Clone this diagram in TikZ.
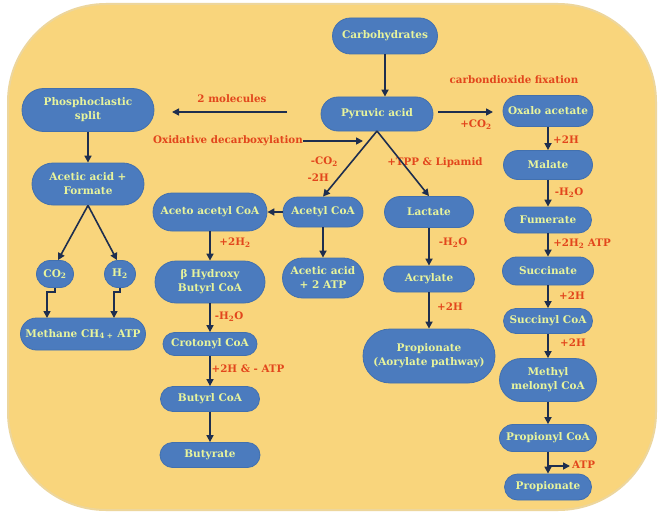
\documentclass[tikz,border=0pt]{standalone}
\usepackage{fontspec}
\setmainfont{DejaVu Serif}
\usetikzlibrary{arrows.meta,shapes.misc}
\definecolor{bgyellow}{HTML}{F9D57C}
\definecolor{boxblue}{HTML}{4B7BBE}
\definecolor{boxedge}{HTML}{4270AE}
\definecolor{boxtext}{HTML}{E8F49C}
\definecolor{lblred}{HTML}{E2461C}
\definecolor{arrnavy}{HTML}{1E2E4F}
\tikzset{
  box/.style={rounded rectangle, fill=boxblue, draw=boxedge, line width=0.8pt,
    text=boxtext, font=\bfseries\fontsize{10.5}{14}\selectfont, align=center,
    inner sep=0pt},
  lbl/.style={text=lblred, font=\bfseries\fontsize{10.3}{12}\selectfont, inner sep=0pt},
  arr/.style={draw=arrnavy, line width=1.6pt, -{Triangle[length=7pt,width=7pt]}},
  ln/.style={draw=arrnavy, line width=1.6pt}
}
\begin{document}
\begin{tikzpicture}[x=1pt,y=-1pt]
\useasboundingbox (0,0) rectangle (663,516);
\fill[white] (0,0) rectangle (663,516);
\draw[fill=bgyellow, draw=black!8!bgyellow!70!white, line width=2pt, rounded corners=98pt] (8,4) rectangle (656,510);

% nodes
\node[box, minimum width=105pt, minimum height=36pt] (carb) at (385,36) {Carbohydrates};
\node[box, minimum width=112pt, minimum height=34pt] (pyr) at (377,114) {Pyruvic acid};
\node[box, minimum width=132pt, minimum height=43pt] (phos) at (88,110) {Phosphoclastic\\split};
\node[box, minimum width=90pt, minimum height=31pt] (oxalo) at (548,111) {Oxalo acetate};
\node[box, minimum width=112pt, minimum height=42pt] (acform) at (88,184) {Acetic acid +\\Formate};
\node[box, minimum width=89pt, minimum height=29pt] (malate) at (548,165) {Malate};
\node[box, minimum width=114pt, minimum height=38pt] (aceto) at (210,212) {Aceto acetyl CoA};
\node[box, minimum width=80pt, minimum height=30pt] (acetyl) at (323,212) {Acetyl CoA};
\node[box, minimum width=89pt, minimum height=31pt] (lactate) at (429,212) {Lactate};
\node[box, minimum width=87pt, minimum height=26pt] (fumer) at (548,220) {Fumerate};
\node[box, minimum width=37pt, minimum height=27pt] (co2) at (55,274) {CO\textsubscript{2}};
\node[box, minimum width=31pt, minimum height=27pt] (h2) at (120,274) {H\textsubscript{2}};
\node[box, minimum width=110pt, minimum height=42pt] (bhyd) at (210,282) {β Hydroxy\\Butyrl CoA};
\node[box, minimum width=81pt, minimum height=40pt] (acetic) at (323,278) {Acetic acid\\+ 2 ATP};
\node[box, minimum width=91pt, minimum height=26pt] (acryl) at (429,279) {Acrylate};
\node[box, minimum width=91pt, minimum height=28pt] (succ) at (548,271) {Succinate};
\node[box, minimum width=89pt, minimum height=25pt] (succoa) at (548,321) {Succinyl CoA};
\node[box, minimum width=125pt, minimum height=32pt] (methane) at (83,334) {Methane CH\textsubscript{4 +} ATP};
\node[box, minimum width=94pt, minimum height=23pt] (croton) at (210,344) {Crotonyl CoA};
\node[box, minimum width=132pt, minimum height=54pt] (propA) at (429,356) {Propionate\\(Aorylate pathway)};
\node[box, minimum width=97pt, minimum height=43pt] (methyl) at (548,380) {Methyl\\melonyl CoA};
\node[box, minimum width=99pt, minimum height=25pt] (butcoa) at (210,399) {Butyrl CoA};
\node[box, minimum width=100pt, minimum height=25pt] (butyrate) at (210,455) {Butyrate};
\node[box, minimum width=97pt, minimum height=27pt] (propcoa) at (548,438) {Propionyl CoA};
\node[box, minimum width=87pt, minimum height=26pt] (propR) at (548,487) {Propionate};

% labels
\node[lbl] (l2mol) at (232,99) {2 molecules};
\node[lbl] (lox) at (228,141) {Oxidative decarboxylation};
\node[lbl] (lfix) at (514,80) {carbondioxide fixation};
\node[lbl] (lco2a) at (476,125) {+CO\textsubscript{2}};
\node[lbl, anchor=east] (lco2b) at (338,162) {-CO\textsubscript{2}};
\node[lbl, anchor=east] (l2hb) at (329,178) {-2H};
\node[lbl] (ltpp) at (435,163) {+TPP \& Lipamid};
\node[lbl] (lr1) at (566,140) {+2H};
\node[lbl] (lr2) at (569,193) {-H\textsubscript{2}O};
\node[lbl] (lr3) at (582,244) {+2H\textsubscript{2} ATP};
\node[lbl] (lr4) at (572,296) {+2H};
\node[lbl] (lr5) at (573,343) {+2H};
\node[lbl, anchor=west] (latp) at (572,465) {ATP};
\node[lbl] (lb1) at (235,243) {+2H\textsubscript{2}};
\node[lbl] (lb2) at (229,317) {-H\textsubscript{2}O};
\node[lbl] (lb3) at (248,369) {+2H \& - ATP};
\node[lbl] (ll1) at (453,243) {-H\textsubscript{2}O};
\node[lbl] (ll2) at (450,307) {+2H};

% coordinates
\coordinate (apex) at (377,131);
\coordinate (oxend) at (363,141);
\coordinate (mStart) at (287,112);
\coordinate (mEnd) at (172,112);
\coordinate (oStart) at (438,112);
\coordinate (oEnd) at (493,112);
\coordinate (m1) at (47,318);
\coordinate (m2) at (114,318);
\coordinate (atpb) at (548,466);
\coordinate (atpe) at (570,466);

% connectors
\draw[arr] (carb.south) -- (carb.south |- pyr.north);
\draw[arr] (mStart) -- (mEnd);
\draw[arr] (lox.east) -- (oxend);
\draw[arr] (apex) -- (acetyl.north);
\draw[arr] (apex) -- (lactate.north);
\draw[arr] (oStart) -- (oEnd);
\draw[arr] (acetyl.west) -- (aceto.east);
\draw[arr] (acetyl.south) -- (acetic.north);
\draw[arr] (aceto.south) -- (bhyd.north);
\draw[arr] (bhyd.south) -- (croton.north);
\draw[arr] (croton.south) -- (butcoa.north);
\draw[arr] (butcoa.south) -- (butyrate.north);
\draw[arr] (lactate.south) -- (acryl.north);
\draw[arr] (acryl.south) -- (propA.north);
\draw[arr] (oxalo.south) -- (malate.north);
\draw[arr] (malate.south) -- (fumer.north);
\draw[arr] (fumer.south) -- (succ.north);
\draw[arr] (succ.south) -- (succoa.north);
\draw[arr] (succoa.south) -- (methyl.north);
\draw[arr] (methyl.south) -- (propcoa.north);
\draw[arr] (propcoa.south) -- (propR.north);
\draw[arr] (atpb) -- (atpe);
\draw[arr] (phos.south) -- (acform.north);
\draw[arr] (acform.south) -- ([xshift=3pt]co2.north);
\draw[arr] (acform.south) -- ([xshift=-3pt]h2.north);
\draw[arr] (co2.south) -- ++(0,4) -| (m1);
\draw[arr] (h2.south) -- ++(0,4) -| (m2);
\end{tikzpicture}
\end{document}
